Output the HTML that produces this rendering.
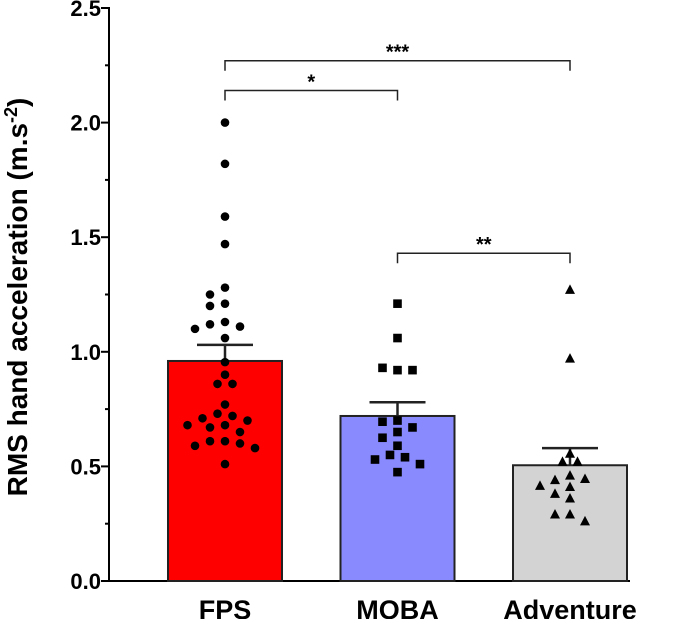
<!DOCTYPE html>
<html><head><meta charset="utf-8"><style>
body{margin:0;background:#fff}
text{font-family:"Liberation Sans",Arial,sans-serif;font-weight:bold;fill:#000}
</style></head><body>
<svg id="chart" width="685" height="619" xmlns="http://www.w3.org/2000/svg"></svg>
<script>
const categories=["FPS","MOBA","Adventure"];
const means=[0.96,0.72,0.505];
const errTop=[1.03,0.78,0.58];
const fills=["#ff0000","#8a8aff","#d3d3d3"];
const fpsPoints=[2.00,1.82,1.59,1.47,1.28,1.25,1.21,1.20,1.13,1.12,1.11,1.10,1.06,0.955,0.90,0.86,0.86,0.77,0.73,0.72,0.71,0.70,0.68,0.68,0.67,0.65,0.61,0.61,0.60,0.59,0.58,0.51];
const mobaPoints=[1.21,1.06,0.92,0.93,0.92,0.70,0.695,0.67,0.65,0.625,0.59,0.55,0.54,0.53,0.51,0.475];
const advPoints=[1.27,0.97,0.555,0.52,0.52,0.46,0.44,0.445,0.415,0.41,0.38,0.36,0.29,0.29,0.26];
const yTicks=[0,0.5,1.0,1.5,2.0,2.5];
const yMinorTicks=[0.25,0.75,1.25,1.75,2.25];
const sig=[{a:0,b:2,y:2.27,label:"***"},{a:0,b:1,y:2.14,label:"*"},{a:1,b:2,y:1.43,label:"**"}];

const svg=document.getElementById('chart');
const NS="http://www.w3.org/2000/svg";
const y0=581,pxPerUnit=229.2;
const yS=v=>y0-v*pxPerUnit;
const xC=i=>225+i*172.5;
const barW=114;
const axX=109;
function el(t,a,p){const e=document.createElementNS(NS,t);for(const k in a)e.setAttribute(k,a[k]);(p||svg).appendChild(e);return e;}

// axes
const ax=el('g',{});


el('line',{x1:axX,y1:yS(2.5)-1,x2:axX,y2:y0+1,stroke:'#000','stroke-width':2},ax);
yTicks.forEach(t=>{
  el('line',{x1:axX-8,y1:yS(t),x2:axX,y2:yS(t),stroke:'#000','stroke-width':2},ax);
  const tx=el('text',{x:101,y:yS(t)+8,'text-anchor':'end','font-size':22},ax);
  tx.textContent=t.toFixed(1);
  
  
});
yMinorTicks.forEach(t=>el('line',{x1:axX-4,y1:yS(t),x2:axX,y2:yS(t),stroke:'#000','stroke-width':2},ax));
const xa=el('line',{x1:axX,y1:y0,x2:630,y2:y0,stroke:'#000','stroke-width':2});


const yt=el('text',{x:0,y:0,'text-anchor':'middle','font-size':28,transform:'translate(27,297) rotate(-90)'});
yt.innerHTML='RMS hand acceleration (m.s<tspan dy="-10" font-size="18">-2</tspan><tspan dy="10">)</tspan>';



// bars
categories.forEach((c,i)=>{
  const b=el('rect',{x:xC(i)-barW/2,y:yS(means[i]),width:barW,height:y0-yS(means[i]),fill:fills[i],stroke:'#222','stroke-width':2});
  
  
  const e=el('g',{stroke:'#222','stroke-width':2.5});
  
  
  el('line',{x1:xC(i),x2:xC(i),y1:yS(means[i]),y2:yS(errTop[i])},e);
  el('line',{x1:xC(i)-28,x2:xC(i)+28,y1:yS(errTop[i]),y2:yS(errTop[i])},e);
  const l=el('text',{x:xC(i),y:619,'text-anchor':'middle','font-size':27});
  l.textContent=c;
  
  
});

// beeswarm points
function swarm(vals,i,shape){
  const placed=[];const cands=[0,-7.5,7.5,-15,15,-22.5,22.5,-30,30,-37.5,37.5];
  vals.forEach(v=>{
    const y=yS(v);let off=0;
    for(const c of cands){if(placed.every(p=>Math.hypot(p.x-c,p.y-y)>=10.5)){off=c;break;}}
    placed.push({x:off,y});
    const cx=xC(i)+off;let m;
    if(shape==='circle')m=el('circle',{cx,cy:y,r:4.3,fill:'#000'});
    else if(shape==='square')m=el('rect',{x:cx-4.3,y:y-4.3,width:8.6,height:8.6,fill:'#000'});
    else m=el('polygon',{points:`${cx},${y-5.5} ${cx-5},${y+4} ${cx+5},${y+4}`,fill:'#000'});
    
    
  });
}
swarm(fpsPoints,0,'circle');
swarm(mobaPoints,1,'square');
swarm(advPoints,2,'triangle');

// significance brackets
sig.forEach(s=>{
  const g=el('g',{});
  
  
  const y=yS(s.y);
  el('polyline',{points:`${xC(s.a)},${y+10} ${xC(s.a)},${y} ${xC(s.b)},${y} ${xC(s.b)},${y+10}`,fill:'none',stroke:'#222','stroke-width':1.5},g);
  const t=el('text',{x:(xC(s.a)+xC(s.b))/2,y:y-2,'text-anchor':'middle','font-size':20},g);
  t.textContent=s.label;
});
</script>
</body></html>
